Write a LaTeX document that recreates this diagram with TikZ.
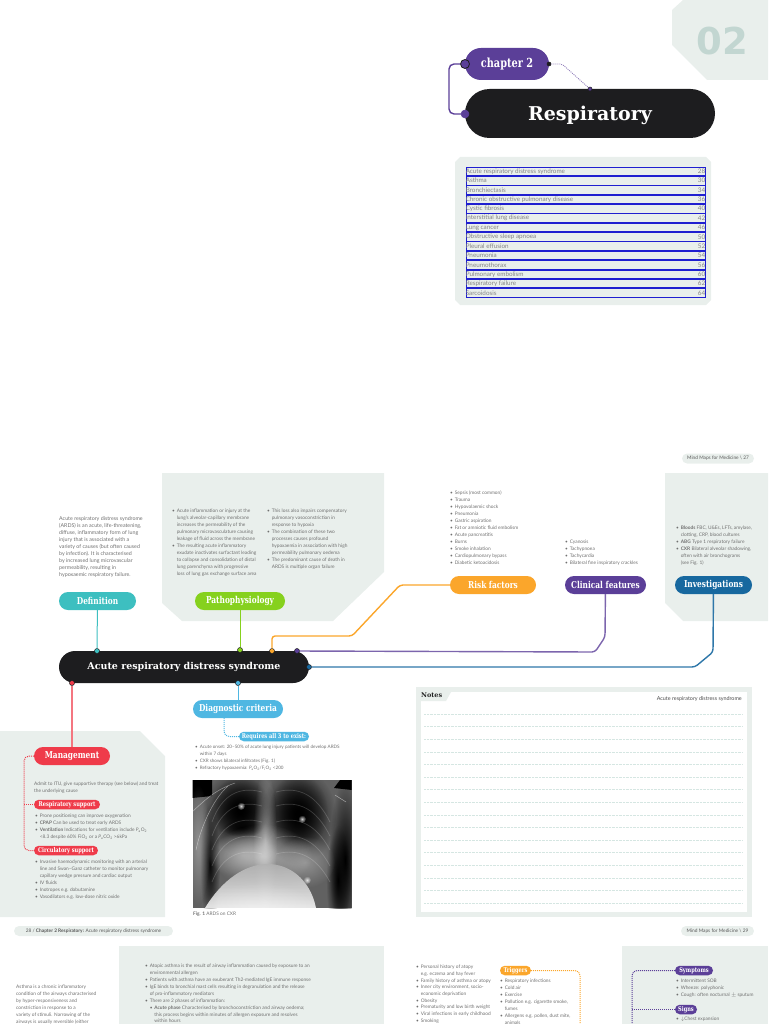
\documentclass[tikz,border=0pt]{standalone}
\usepackage{fontspec}
\setmainfont{Lato}
\newfontfamily\headfont[FakeStretch=0.78]{DejaVu Serif}
\newfontfamily\slabfont{DejaVu Serif}
\newfontfamily\numfont{DejaVu Sans}
\usetikzlibrary{shapes.misc, fadings, calc}
\definecolor{panelcol}{HTML}{E9EFEC}
\definecolor{inkcol}{HTML}{1D1D1F}
\definecolor{chapcol}{HTML}{5B3F98}
\definecolor{defncol}{HTML}{3DBFC0}
\definecolor{pathocol}{HTML}{86D11E}
\definecolor{riskcol}{HTML}{FBA62B}
\definecolor{invcol}{HTML}{17689F}
\definecolor{mgmtcol}{HTML}{EF3B4A}
\definecolor{diagcol}{HTML}{4FB7E2}
\definecolor{rowcol}{HTML}{1F1FD0}
\definecolor{numcol}{HTML}{C2D6D1}
\definecolor{ruledcol}{HTML}{D5E6E2}
\tikzfading[name=softspot, inner color=transparent!0, outer color=transparent!100]
\newcommand{\bul}{\makebox[4.6pt][l]{\textbullet}}
\newcommand{\ind}{\hspace*{4.6pt}}
\newcommand{\sbs}[1]{\textsubscript{#1}}
\newcommand{\linkD}[3]
{
	\draw[#1] (#2) -- (#3)
}

\begin{document}
\begin{tikzpicture}[x=1pt, y=-1pt,
			pill/.style={shape=rounded rectangle, inner sep=0, text=white,
				font=\headfont\bfseries\fontsize{9.5}{10}\selectfont,
				minimum height=18pt},
			minipill/.style={pill, font=\headfont\bfseries\fontsize{6.5}{7}\selectfont,
				minimum height=9.5pt},
			dot/.style={shape=circle, inner sep=0, minimum size=5pt, draw=inkcol, line width=.5pt},
			wire/.style={line width=1.4pt, rounded corners=3pt},
			dots/.style={line width=1pt, densely dotted, rounded corners=5pt},
			body/.style={anchor=north west, inner sep=0, align=left, text=black!56,
				font=\fontsize{4.8}{7}\selectfont},
			tab/.style={shape=rounded rectangle, inner sep=0, fill=panelcol, minimum height=10pt, text=black!65,
				font=\fontsize{4.8}{6}\selectfont},
			panel/.style={fill=panelcol}]
	\useasboundingbox (0,0) rectangle (768,1024);

	% backgrounds
	\fill[panel] (683,0) -- (768,0) -- (768,80) -- (707,80) -- (672,45) -- (672,10) -- cycle;
	\fill[panel] (460,157) -- (706,157) -- (711,162) -- (711,300) -- (706,305) -- (460,305) -- (455,300) -- (455,162) -- cycle;
	\fill[panel] (162,473) -- (384,473) -- (384,572) -- (333,621) -- (182,621) -- (162,603) -- cycle;
	\fill[panel] (665,473) -- (768,473) -- (768,621) -- (683,621) -- (665,603) -- cycle;
	\fill[panel] (0,731) -- (140,731) -- (165,756) -- (165,917) -- (0,917) -- cycle;
	\fill[panel] (416,687) rectangle (752,917);
	\fill[white] (421,692) rectangle (747,912);
	\fill[panel] (421,692) -- (451,692) -- (446,701) -- (421,701) -- cycle;
	\fill[panel] (119,946) rectangle (384,1024);
	\fill[panel] (622,946) rectangle (768,1024);

	% chapter title
	\node[font=\numfont\bfseries\fontsize{37}{37}\selectfont, text=numcol] at (722,41) (chapnum){02};
	\node[pill, fill=chapcol, minimum width=84pt, minimum height=32pt,
		font=\headfont\bfseries\fontsize{12.5}{13}\selectfont] at (507,64) (chap){chapter 2};
	\node[pill, fill=inkcol, minimum width=250pt, minimum height=49pt, text depth=0pt, text height=15pt,
		font=\slabfont\bfseries\fontsize{19}{20}\selectfont] at (590,113.5) (title){Respiratory};
	\node[dot, fill=chapcol, minimum size=9pt, line width=.8pt] at (465,64) (chapin){};
	\node[dot, fill=chapcol, draw=chapcol, minimum size=8pt] at (465,114) (titlein){};
	\node[dot, fill=inkcol, minimum size=4pt] at (549,64) (chapout){};
	\node[dot, fill=chapcol, minimum size=4pt] at (590,89) (titleout){};
	\draw[wire, chapcol, rounded corners=5pt] (chapin) -- (449,64) -- (449,114) -- (titlein);
	\draw[dots, chapcol!70, line width=.8pt, rounded corners=2pt] (chapout) -- (562,64) -- (titleout);

	% contents
	\foreach \name/\page [count=\i from 0] in {Acute respiratory distress syndrome/28, Asthma/30, Bronchiectasis/34,
		Chronic obstructive pulmonary disease/36, Cystic fibrosis/40, Interstitial lung disease/42, Lung cancer/46,
		Obstructive sleep apnoea/50, Pleural effusion/52, Pneumonia/54, Pneumothorax/56, Pulmonary embolism/60,
		Respiratory failure/62, Sarcoidosis/64}
	{
		\node[draw=rowcol, line width=.9pt, inner sep=0, minimum width=239pt, minimum height=8.6pt] at (585.5,171.3+9.36*\i) (row\i){};
		\node[body, anchor=west, text=black!48, font=\fontsize{6.3}{7}\selectfont] at (row\i.west) (rowname\i){\name};
		\node[body, anchor=east, text=black!48, font=\fontsize{6.3}{7}\selectfont] at (row\i.east) (rowpage\i){\page};
	}

	% running heads
	\node[tab, minimum width=72pt] at (718,458.5) (heada){Mind Maps for Medicine \textbackslash\ 27};
	\node[tab, minimum width=159pt] at (93.5,931) (headb){28 / \textbf{Chapter 2 Respiratory:} Acute respiratory distress syndrome};
	\node[tab, minimum width=73pt] at (717.5,931) (headc){Mind Maps for Medicine \textbackslash\ 29};

	% mind map
	\node[pill, fill=inkcol, minimum width=250pt, minimum height=32pt,
		font=\slabfont\bfseries\fontsize{9.5}{10}\selectfont] at (184,667) (ards){Acute respiratory distress syndrome};
	\node[pill, fill=defncol, minimum width=77pt] at (97.5,601) (defn){Definition};
	\node[pill, fill=pathocol, minimum width=90pt] at (240,601) (patho){Pathophysiology};
	\node[pill, fill=riskcol, minimum width=86pt] at (493,585) (risk){Risk factors};
	\node[pill, fill=chapcol, minimum width=81pt] at (605.5,585) (clin){Clinical features};
	\node[pill, fill=invcol, minimum width=77pt] at (713.5,585) (inv){Investigations};
	\node[pill, fill=diagcol, minimum width=90pt] at (238,709) (diag){Diagnostic criteria};
	\node[pill, fill=mgmtcol, minimum width=76pt] at (72,756) (mgmt){Management};
	\node[minipill, fill=diagcol, minimum width=70pt] at (274,736.5) (needs){Requires all 3 to exist:};
	\node[minipill, fill=mgmtcol, minimum width=66pt] at (67,804.5) (respsup){Respiratory support};
	\node[minipill, fill=mgmtcol, minimum width=64pt] at (66,850.5) (circsup){Circulatory support};

	\node[dot, fill=defncol] at (97,651) (dotdefn){};
	\node[dot, fill=pathocol] at (240,650) (dotpatho){};
	\node[dot, fill=riskcol] at (272,651) (dotrisk){};
	\node[dot, fill=chapcol] at (297,651) (dotclin){};
	\node[dot, fill=invcol] at (309,667) (dotinv){};
	\node[dot, fill=mgmtcol] at (72,683) (dotmgmt){};
	\node[dot, fill=diagcol] at (238,683) (dotdiag){};

	\linkD{wire, line width=1pt, defncol}{dotdefn}{defn};
	\linkD{wire, line width=1pt, pathocol}{dotpatho}{patho};
	\linkD{wire, mgmtcol!70, line width=1.6pt}{dotmgmt}{mgmt};
	\linkD{wire, line width=1pt, diagcol}{dotdiag}{diag};
	\draw[wire, riskcol] (dotrisk) -- (272,636) -- (352,636) -- (400,585) -- (risk);
	\draw[wire, chapcol!80] (dotclin) -- (595,652) -- (605,637) -- (clin);
	\draw[wire, invcol!90] (dotinv) -- (695,667) -- (713,652) -- (inv);
	\draw[dots, diagcol] (224,718) -- (224,736.5) -- (needs);
	\draw[dots, mgmtcol] (mgmt) -- (24,756) -- (24,850.5) -- (circsup);
	\draw[dots, mgmtcol, rounded corners=0pt] (24,804.5) -- (respsup);

	% texts
	\node[body, font=\fontsize{5.3}{7}\selectfont] at (59,516) (defntext){Acute respiratory distress syndrome\\(ARDS) is an acute, life-threatening,\\diffuse, inflammatory form of lung\\injury that is associated with a\\variety of causes (but often caused\\by infection). It is characterised\\by increased lung microvascular\\permeability, resulting in\\hypoxaemic respiratory failure.};
	\node[body] at (172,509) (pathoa){\bul Acute inflammation or injury at the\\\ind lung's alveolar-capillary membrane\\\ind increases the permeability of the\\\ind pulmonary microvasculature causing\\\ind leakage of fluid across the membrane\\\bul The resulting acute inflammatory\\\ind exudate inactivates surfactant leading\\\ind to collapse and consolidation of distal\\\ind lung parenchyma with progressive\\\ind loss of lung gas exchange surface area};
	\node[body] at (267,509) (pathob){\bul This loss also impairs compensatory\\\ind pulmonary vasoconstriction in\\\ind response to hypoxia\\\bul The combination of these two\\\ind processes causes profound\\\ind hypoxaemia in association with high\\\ind permeability pulmonary oedema\\\bul The predominant cause of death in\\\ind ARDS is multiple organ failure};
	\node[body] at (450,491) (risktext){\bul Sepsis (most common)\\\bul Trauma\\\bul Hypovolaemic shock\\\bul Pneumonia\\\bul Gastric aspiration\\\bul Fat or amniotic fluid embolism\\\bul Acute pancreatitis\\\bul Burns\\\bul Smoke inhalation\\\bul Cardiopulmonary bypass\\\bul Diabetic ketoacidosis};
	\node[body] at (565,540) (clintext){\bul Cyanosis\\\bul Tachypnoea\\\bul Tachycardia\\\bul Bilateral fine inspiratory crackles};
	\node[body] at (676,526) (invtext){\bul \textbf{Bloods} FBC, U\&Es, LFTs, amylase,\\\ind clotting, CRP, blood cultures\\\bul \textbf{ABG} Type 1 respiratory failure\\\bul \textbf{CXR} Bilateral alveolar shadowing,\\\ind often with air bronchograms\\\ind (see Fig. 1)};
	\node[body, font=\fontsize{4.6}{7}\selectfont] at (195,745) (diagtext){\bul Acute onset: 20--50\% of acute lung injury patients will develop ARDS\\\ind within 7 days\\\bul CXR shows bilateral infiltrates (Fig. 1)\\\bul Refractory hypoxaemia: \textit{P}\sbs{a}O\sbs{2}/F\sbs{i}O\sbs{2} <200};
	\node[body] at (34,782) (mgmttext){Admit to ITU, give supportive therapy (see below) and treat\\the underlying cause};
	\node[body] at (35,814) (resptext){\bul Prone positioning can improve oxygenation\\\bul \textbf{CPAP} Can be used to treat early ARDS\\\bul \textbf{Ventilation} Indications for ventilation include \textit{P}\sbs{a}O\sbs{2}\\\ind <8.3 despite 60\% FiO\sbs{2} or a \textit{P}\sbs{a}CO\sbs{2} >6kPa};
	\node[body] at (35,860) (circtext){\bul Invasive haemodynamic monitoring with an arterial\\\ind line and Swan--Ganz catheter to monitor pulmonary\\\ind capillary wedge pressure and cardiac output\\\bul IV fluids\\\bul Inotropes e.g. dobutamine\\\bul Vasodilators e.g. low-dose nitric oxide};
	\node[body] at (193,912) (figtext){\textbf{Fig. 1} ARDS on CXR};

	% x-ray
	\fill[black!62] (192.5,780) rectangle (351.5,908);
	\begin{scope}
		\clip (192.5,780) rectangle (351.5,908);
		\fill[black] (192,780) -- (212,780) -- (212,796) -- (192,798) -- cycle;
		\fill[black] (340,780) -- (352,780) -- (352,790) -- (334,788) -- cycle;
		\foreach \cx/\cy/\rx/\ry/\shadecol/\alpha in {
			345/860/16/80/black/1, 338/880/12/55/black/1, 210/865/10/62/black/.9,
			240/812/38/42/black/1, 240/808/30/32/black/1, 298/816/38/48/black/1, 298/812/30/38/black/1,
			243/855/36/22/black!40/.8, 305/862/30/26/black!38/.8,
			243/828/20/9/black/1,
			265/840/12/72/white/.4, 262/856/50/32/white/.45,
			198/845/12/60/white/.3}
		{
			\fill[\shadecol, opacity=\alpha, path fading=softspot] (\cx,\cy) ellipse (\rx pt and \ry pt);
		}
		\shade[top color=black!30, bottom color=white, opacity=.85] (205,908) .. controls (222,880) and (245,864) .. (268,864) .. controls (288,864) and (310,878) .. (316,908) -- cycle;
		\fill[white, opacity=.4, path fading=softspot] (258,912) ellipse (60pt and 30pt);
		\foreach \ribA/\ribB in {792/812, 806/826, 822/840, 838/856, 854/872}
		{
			\draw[white, opacity=.18, line width=.7pt] (262,\ribA) .. controls (240,\ribA-6) and (222,\ribA+2) .. (212,\ribB+10);
			\draw[white, opacity=.18, line width=.7pt] (276,\ribA) .. controls (298,\ribA-6) and (316,\ribA+2) .. (330,\ribB+10);
		}
		\draw[white, opacity=.45, line width=.5pt] (192,812) .. controls (205,800) and (215,790) .. (235,783);
		\draw[white, opacity=.45, line width=.5pt] (196,850) .. controls (200,830) and (212,800) .. (228,786);
		\draw[white, opacity=.5, line width=.5pt] (335,795) -- (346,802);
		\foreach \cx/\cy in {241/806, 302/819, 307/880}
		{
			\fill[white, opacity=.8, path fading=softspot] (\cx,\cy) circle (4pt);
		}
	\end{scope}

	% notes
	\node[body, anchor=west, text=black!85, font=\slabfont\bfseries\fontsize{6.5}{7}\selectfont] at (421,695) (notes){Notes};
	\node[body, anchor=east, text=black!70, font=\fontsize{5.4}{6}\selectfont] at (742,699) (notesname){Acute respiratory distress syndrome};
	\foreach \i in {0,...,15}
	{
		\draw[densely dotted, line width=.4pt, ruledcol] (424,714+12.6*\i) -- (743,714+12.6*\i);
	}

	% next spread
	\node[body] at (16,985) (asthtext){Asthma is a chronic inflammatory\\condition of the airways characterised\\by hyper-responsiveness and\\constriction in response to a\\variety of stimuli. Narrowing of the\\airways is usually reversible (either};
	\node[body, font=\fontsize{4.8}{6.9}\selectfont] at (145,964) (asthpatho){\bul Atopic asthma is the result of airway inflammation caused by exposure to an\\\ind environmental allergen\\\bul Patients with asthma have an exuberant Th2-mediated IgE immune response\\\bul IgE binds to bronchial mast cells resulting in degranulation and the release\\\ind of pro-inflammatory mediators\\\bul There are 2 phases of inflammation:\\\ind\bul \textbf{Acute phase} Characterised by bronchoconstriction and airway oedema;\\\ind\ind this process begins within minutes of allergen exposure and resolves\\\ind\ind within hours};
	\node[body, font=\fontsize{4.8}{6.7}\selectfont] at (416,965) (asthrisk){\bul Personal history of atopy\\\ind e.g. eczema and hay fever\\\bul Family history of asthma or atopy\\\bul Inner city environment, socio-\\\ind economic deprivation\\\bul Obesity\\\bul Prematurity and low birth weight\\\bul Viral infections in early childhood\\\bul Smoking};
	\node[minipill, fill=riskcol, minimum width=31pt] at (515.5,970.5) (trig){Triggers};
	\node[body] at (500,979) (trigtext){\bul Respiratory infections\\\bul Cold air\\\bul Exercise\\\bul Pollution e.g. cigarette smoke,\\\ind fumes\\\bul Allergens e.g. pollen, dust mite,\\\ind animals};
	\coordinate (trigend) at (580,1024);
	\draw[dots, riskcol] (trig) -- (580,970.5) -- (trigend);
	\node[minipill, fill=chapcol, minimum width=38pt] at (694,970.5) (symp){Symptoms};
	\node[minipill, fill=chapcol, minimum width=22pt] at (686,1009.5) (signs){Signs};
	\node[body] at (676,979) (symptext){\bul Intermittent SOB\\\bul Wheeze: polyphonic\\\bul Cough: often nocturnal $\pm$ sputum};
	\node[body] at (676,1017) (signtext){\bul $\downarrow$Chest expansion};
	\coordinate (sympend) at (632,1024);
	\draw[dots, chapcol] (symp) -- (632,970.5) -- (sympend);
	\draw[dots, chapcol, rounded corners=0pt] (632,1009.5) -- (signs);
\end{tikzpicture}
\end{document}
